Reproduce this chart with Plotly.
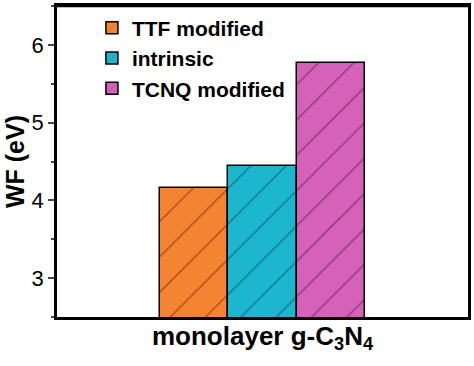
import plotly.graph_objects as go

categories = ["monolayer g-C<sub>3</sub>N<sub>4</sub>"]
series_names = ["TTF modified", "intrinsic", "TCNQ modified"]
wf_values = [4.16, 4.44, 5.77]
fill_colors = ["#F58432", "#1CB6CF", "#D562B8"]
hatch_colors = ["#5A1E02", "#073E4A", "#461046"]
y_ticks = [3, 4, 5, 6]

fig = go.Figure()
for name, val, fc, hc in zip(series_names, wf_values, fill_colors, hatch_colors):
    fig.add_trace(go.Bar(
        x=[0], y=[val], name=name,
        marker=dict(color=fc, line=dict(color="black", width=1.5),
                    pattern=dict(shape="/", fgcolor=hc, bgcolor=fc, size=25, solidity=0.06)),
    ))

fig.add_shape(type="line", xref="paper", yref="paper", x0=0, x1=1, y0=1, y1=1,
              line=dict(color="black", width=2.5), layer="above")

fig.update_layout(
    width=474, height=366,
    margin=dict(l=57, r=6, t=6, b=49, autoexpand=False),
    paper_bgcolor="white", plot_bgcolor="white",
    barmode="group", bargap=0, bargroupgap=0,
    font=dict(family="Liberation Sans, Arial", color="black"),
    showlegend=True,
    legend=dict(x=0.085, y=0.995, xanchor="left", yanchor="top",
                font=dict(size=21, family="Liberation Sans, Arial", weight="bold"),
                bgcolor="rgba(0,0,0,0)", tracegroupgap=0, itemwidth=30),
    xaxis=dict(range=[-1, 1], tickmode="array", tickvals=[0], ticktext=[""],
               showline=True, linecolor="black", linewidth=2.5, mirror=True, automargin=False,
               ticks="", showgrid=False, zeroline=False,
               title=dict(text="<b>" + categories[0] + "</b>", font=dict(size=26), standoff=6)),
    yaxis=dict(range=[2.5, 6.5], tickvals=y_ticks, ticks="outside", ticklen=6, tickwidth=2,
               showline=True, linecolor="black", linewidth=2.5, mirror=True, automargin=False,
               showgrid=False, zeroline=False, tickfont=dict(size=22),
               minor=dict(ticks="outside", ticklen=3, tickwidth=2, dtick=0.5, showgrid=False),
               title=dict(text="<b>WF (eV)</b>", font=dict(size=25), standoff=0)),
)

fig.write_html("out.html", config={"displayModeBar": False},
               post_script="document.body.style.margin='0';document.body.style.padding='0';document.body.style.overflow='hidden';")
